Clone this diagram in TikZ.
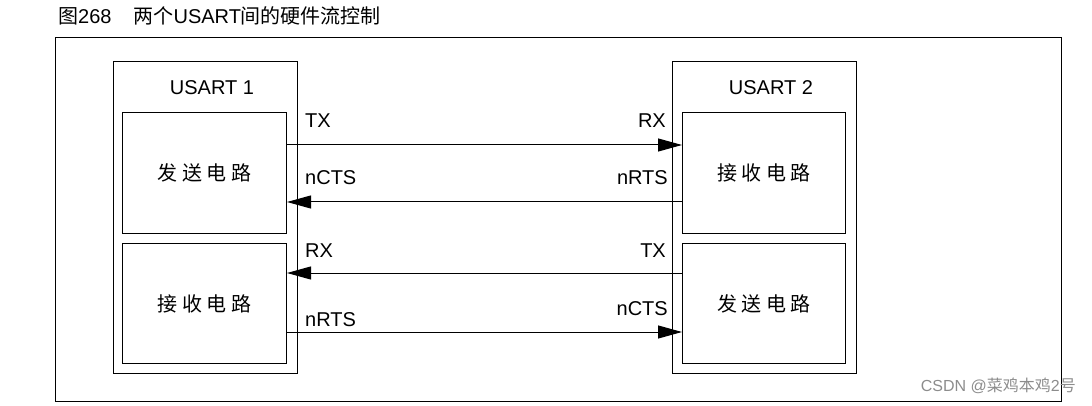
\documentclass[tikz,border=0pt]{standalone}
\usepackage{fontspec}
\setmainfont{Liberation Sans}
\newfontfamily\cjk{Noto Sans CJK SC}
\usetikzlibrary{arrows.meta}
\begin{document}
\begin{tikzpicture}[x=1pt,y=-1pt,
  box/.style={draw,line width=1pt},
  lbl/.style={font=\fontsize{20}{22}\selectfont,inner sep=0pt},
  cn/.style={font=\cjk\fontsize{20}{22}\selectfont,inner sep=0pt},
  sig/.style={line width=1pt,-{Triangle[length=24pt,width=13pt]}}]
\useasboundingbox (0,0) rectangle (1092,406);
\node[anchor=west,inner sep=0pt,font=\fontsize{20}{22}\selectfont] (title) at (58,16) {{\cjk 图}268\hspace{22pt}{\cjk 两个}USART{\cjk 间的硬件流控制}};
\draw[line width=1pt] (55,38) rectangle (1061,401);
\draw[box] (113,62) rectangle (297,373);
\draw[box] (672,62) rectangle (856,373);
\node[lbl] (u1) at (212,88) {USART 1};
\node[lbl] (u2) at (771,88) {USART 2};
\node[box,minimum width=164pt,minimum height=121pt,anchor=north west] (s1) at (122,112) {};
\node[box,minimum width=164pt,minimum height=120pt,anchor=north west] (r1) at (122,243) {};
\node[box,minimum width=163pt,minimum height=121pt,anchor=north west] (r2) at (682,112) {};
\node[box,minimum width=163pt,minimum height=120pt,anchor=north west] (s2) at (682,243) {};
\node[cn] at (s1) {发 送 电 路};
\node[cn] at (r1) {接 收 电 路};
\node[cn] at (r2) {接 收 电 路};
\node[cn] at (s2) {发 送 电 路};
\draw[sig] (s1.east |- 0,145) -- (r2.west |- 0,145);
\draw[sig] (r2.west |- 0,202) -- (s1.east |- 0,202);
\draw[sig] (s2.west |- 0,273) -- (r1.east |- 0,273);
\draw[sig] (r1.east |- 0,332) -- (s2.west |- 0,332);
\node[lbl,anchor=west] (a1) at (305,121) {TX};
\node[lbl,anchor=east] (a2) at (666,121) {RX};
\node[lbl,anchor=west] (a3) at (305,178) {nCTS};
\node[lbl,anchor=east] (a4) at (668,178) {nRTS};
\node[lbl,anchor=west] (a5) at (305,251) {RX};
\node[lbl,anchor=east] (a6) at (666,251) {TX};
\node[lbl,anchor=west] (a7) at (305,320) {nRTS};
\node[lbl,anchor=east] (a8) at (668,309) {nCTS};
\node[anchor=east,inner sep=0pt,text=black!45,font=\fontsize{16}{18}\selectfont] (wm) at (1076,386) {CSDN @{\cjk 菜鸡本鸡}2{\cjk 号}};
\end{tikzpicture}
\end{document}
